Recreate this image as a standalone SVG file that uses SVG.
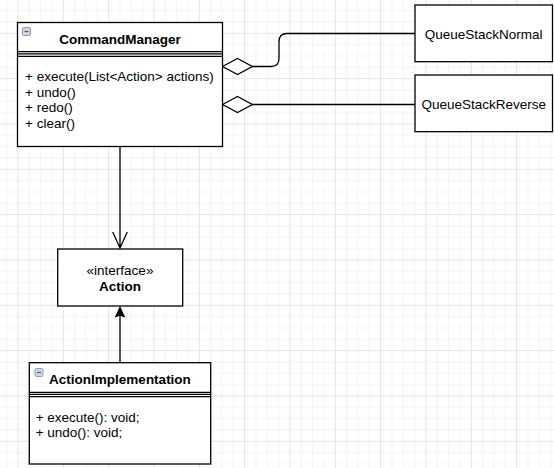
<svg xmlns="http://www.w3.org/2000/svg" width="554" height="468" viewBox="0 0 554 468">
<defs>
<pattern id="grid" patternUnits="userSpaceOnUse" x="17.5" y="32.8" width="45.333" height="45.333">
<path d="M11.83,0V45.333M23.17,0V45.333M34.5,0V45.333M0,11.83H45.333M0,23.17H45.333M0,34.5H45.333" stroke="#f3f3f3" stroke-width="1" fill="none"/>
<path d="M0.5,0V45.333M0,0.5H45.333" stroke="#e4e4e4" stroke-width="1" fill="none"/>
</pattern>
<style>
.box{fill:#fff;stroke:#000;stroke-width:1.3}
.ln{stroke:#000;stroke-width:1.3;fill:none}
.t{font-family:"Liberation Sans",Arial,sans-serif;font-size:13.5px;fill:#000}
.b{font-weight:bold}
.ic{fill:#cfd8e2;stroke:#8c9cad;stroke-width:1}
</style>
</defs>
<rect width="554" height="468" fill="#fff"/>
<rect width="554" height="468" fill="url(#grid)"/>

<g id="connectors">
<path class="ln" d="M252,66.5H271Q279,66.5 279,58.5V41.5Q279,33.5 287,33.5H415"/>
<polygon class="box" points="222.5,66.5 237.5,58.5 252.3,66.5 237.5,74.5"/>
<path class="ln" d="M252,104.5H415"/>
<polygon class="box" points="222.5,104.5 237.5,96.5 252.3,104.5 237.5,112.5"/>
<path class="ln" d="M120,147V248M112.7,232L120,248L127.3,232"/>
<path class="ln" d="M120,362.7V315"/>
<path d="M120,307L124.5,317L120,315L115.5,317Z" fill="#000" stroke="#000" stroke-width="1"/>
</g>

<g id="CommandManager">
<rect class="box" x="17.5" y="22.5" width="205" height="124"/>
<path class="ln" d="M17.5,51.7H222.5M17.5,53.8H222.5M17.5,56.3H222.5"/>
<rect class="ic" x="22.5" y="27.5" width="8" height="8" rx="1.5"/>
<path d="M24.5,31.5H28.5" stroke="#4d5c6b" stroke-width="1.2"/>
<text class="t b" x="120" y="43.5" text-anchor="middle">CommandManager</text>
<text class="t" x="25" y="81">+ execute(List&lt;Action&gt; actions)</text>
<text class="t" x="25" y="96.6">+ undo()</text>
<text class="t" x="25" y="112.2">+ redo()</text>
<text class="t" x="25" y="127.8">+ clear()</text>
</g>

<g id="QueueStackNormal">
<rect class="box" x="415" y="5" width="137.5" height="56.7"/>
<text class="t" x="483.7" y="38.5" text-anchor="middle">QueueStackNormal</text>
</g>

<g id="QueueStackReverse">
<rect class="box" x="415" y="75" width="137.5" height="56.7"/>
<text class="t" x="483.7" y="109" text-anchor="middle">QueueStackReverse</text>
</g>

<g id="Action">
<rect class="box" x="57.7" y="249" width="125" height="57"/>
<text class="t" x="120" y="275" text-anchor="middle">«interface»</text>
<text class="t b" x="120" y="290.5" text-anchor="middle">Action</text>
</g>

<g id="ActionImplementation">
<rect class="box" x="29.3" y="362.7" width="181.4" height="101.3"/>
<path class="ln" d="M29.3,392.3H210.7M29.3,394.3H210.7M29.3,396.7H210.7"/>
<rect class="ic" x="35" y="368.5" width="8" height="8" rx="1.5"/>
<path d="M37,372.5H41" stroke="#4d5c6b" stroke-width="1.2"/>
<text class="t b" x="120" y="383.5" text-anchor="middle">ActionImplementation</text>
<text class="t" x="35.7" y="421.7">+ execute(): void;</text>
<text class="t" x="35.7" y="436.7">+ undo(): void;</text>
</g>
</svg>
